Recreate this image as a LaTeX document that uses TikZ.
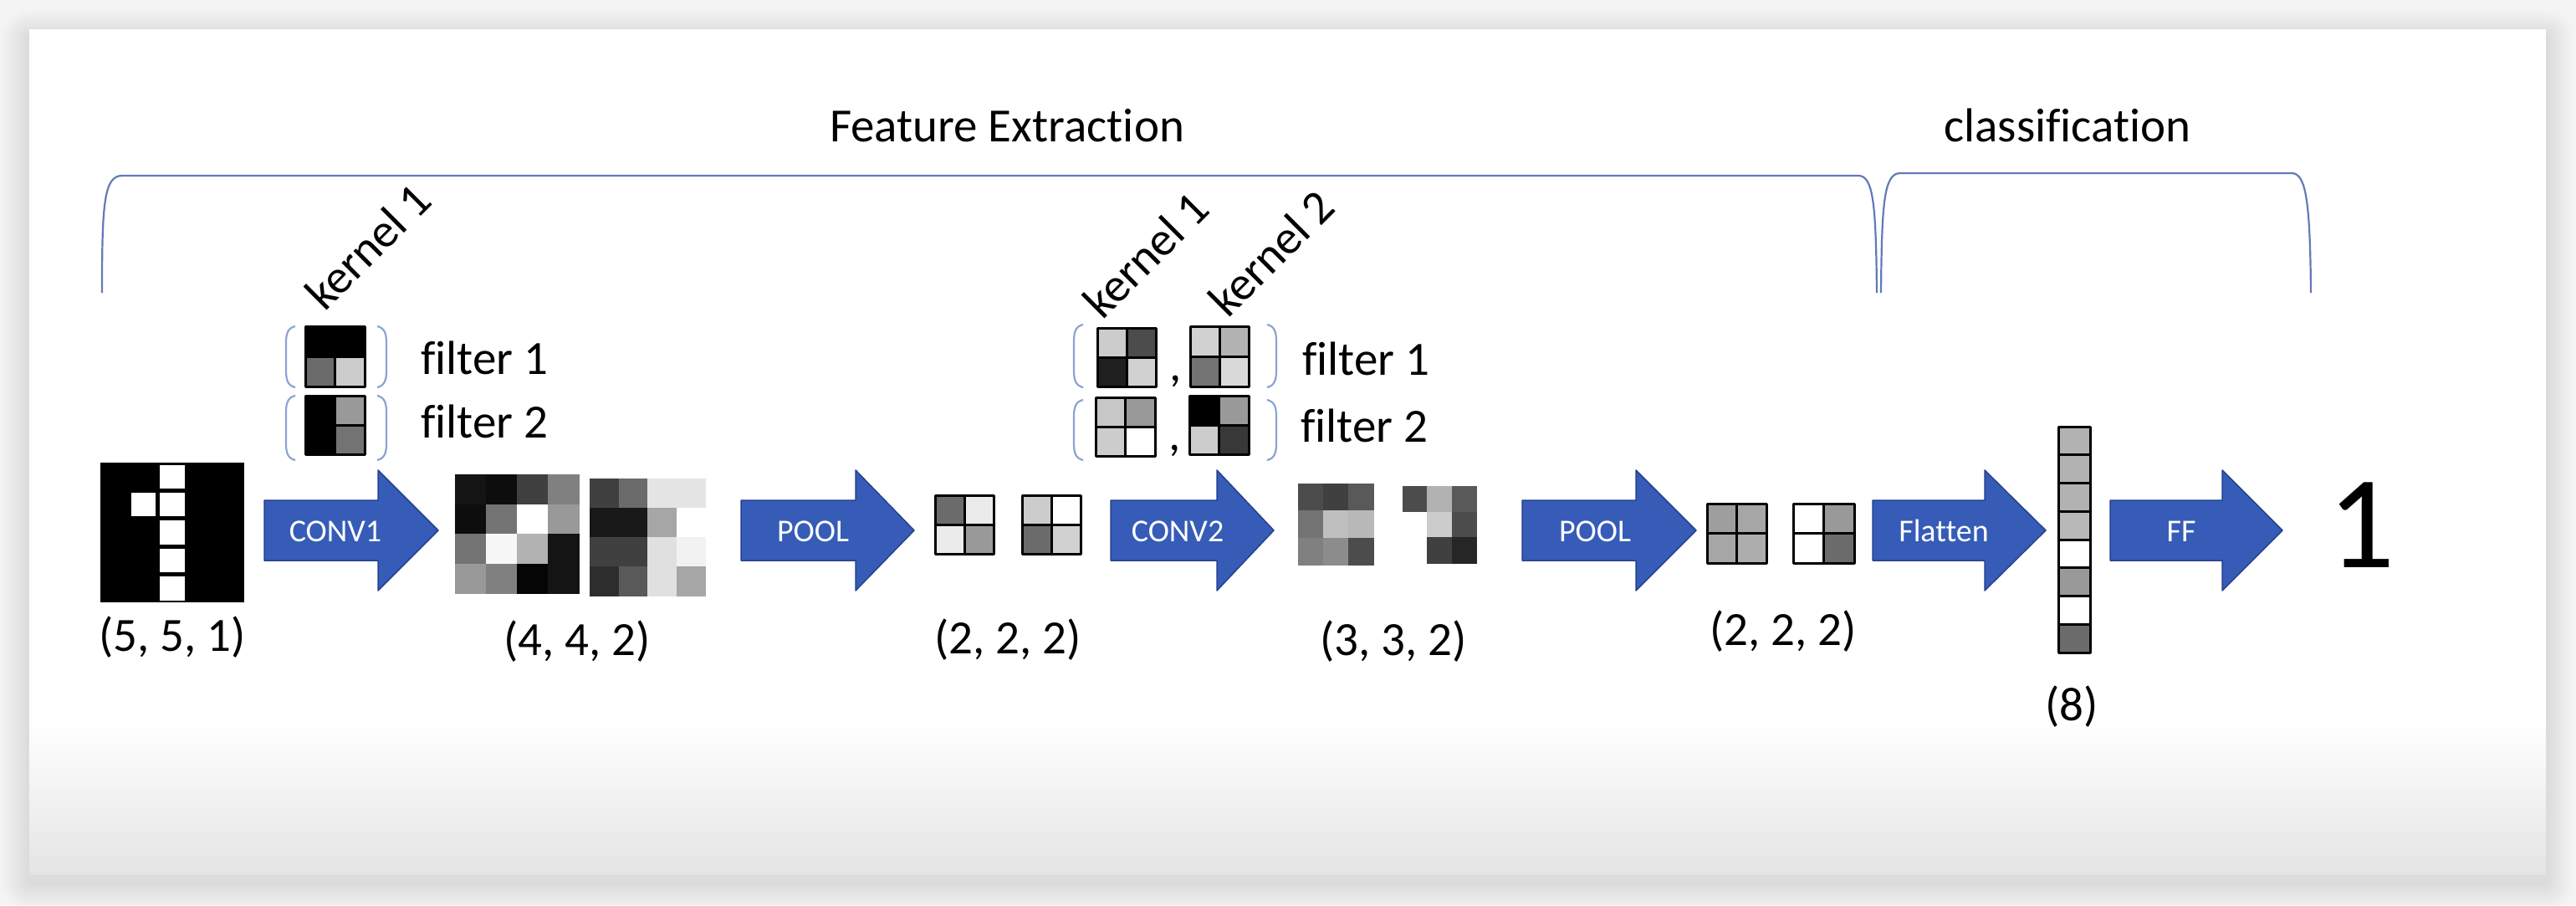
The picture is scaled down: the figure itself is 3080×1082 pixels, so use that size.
\documentclass[tikz,border=0pt]{standalone}
\usepackage{fontspec}
\setmainfont{Carlito}[Ligatures=NoCommon]
\definecolor{bgout}{RGB}{244,244,244}
\definecolor{cardbot}{RGB}{228,228,228}
\definecolor{bracecol}{RGB}{98,122,186}
\definecolor{kbrace}{RGB}{140,162,212}
\definecolor{arrfill}{RGB}{54,92,184}
\definecolor{arrdraw}{RGB}{38,66,142}
\tikzset{
  lbl/.style={font=\fontsize{57}{68}\selectfont, inner sep=0pt, text=black},
  arrlbl/.style={font=\fontsize{38}{46}\selectfont, inner sep=0pt, text=white},
  bigone/.style={font=\fontsize{158}{180}\selectfont, inner sep=0pt, text=black},
  bracket/.style={draw=bracecol, line width=2.2pt},
  kbracket/.style={draw=kbrace, line width=2.2pt},
  blockarr/.style={fill=arrfill, draw=arrdraw, line width=1.5pt},
  gridline/.style={draw=black, line width=3pt}
}
% soft grid: x0,y0,cellw,cellh,ncols,{values}
\newcommand{\softgrid}[6]{%
  \foreach \v [count=\i from 0] in {#6} {%
    \pgfmathtruncatemacro\cc{mod(\i,#5)}%
    \pgfmathtruncatemacro\rr{div(\i,#5)}%
    \fill[white!\v!black] ({#1+\cc*#3},{#2+\rr*#4}) rectangle ++(#3+0.6,#4+0.6);
  }}
% bordered grid: x0,y0,cellw,cellh,ncols,nrows,{values}
\newcommand{\boxgrid}[7]{%
  \softgrid{#1}{#2}{#3}{#4}{#5}{#7}%
  \foreach \cc in {1,...,#5} {\ifnum\cc<#5 \draw[gridline] ({#1+\cc*#3},#2) -- ++(0,{#6*#4});\fi}%
  \foreach \rr in {1,...,#6} {\ifnum\rr<#6 \draw[gridline] (#1,{#2+\rr*#4}) -- ++({#5*#3},0);\fi}%
  \draw[gridline] (#1,#2) rectangle ++({#5*#3},{#6*#4});}
% block arrow: x start, head base, tip
\newcommand{\blockarrow}[3]{%
  \draw[blockarr] (#1,598) -- (#2,598) -- (#2,562) -- (#3,634) -- (#2,706) -- (#2,670) -- (#1,670) -- cycle;}
% kernel bracket pair: xl, xr, ytop, ybot
\newcommand{\kbr}[4]{%
  \draw[kbracket] ({#1+11},#3) .. controls ({#1+2},{#3+2}) and (#1,{#3+9}) .. (#1,{#3+20}) -- (#1,{#4-20}) .. controls (#1,{#4-9}) and ({#1+2},{#4-2}) .. ({#1+11},#4);
  \draw[kbracket] ({#2-11},#3) .. controls ({#2-2},{#3+2}) and (#2,{#3+9}) .. (#2,{#3+20}) -- (#2,{#4-20}) .. controls (#2,{#4-9}) and ({#2-2},{#4-2}) .. ({#2-11},#4);}
\begin{document}
\begin{tikzpicture}[x=1pt,y=-1pt,line join=round]
\useasboundingbox (0,0) rectangle (3080,1082);
% background and card
\fill[bgout] (0,0) rectangle (3080,1082);
\foreach \d in {32,28,...,2} {\fill[black,opacity=0.012,rounded corners=\d pt] ({35-\d},{35-\d+10}) rectangle ({3044+\d},{1045+\d+10});}
\fill[white] (35,35) rectangle (3044,1045);
\shade[top color=white,bottom color=cardbot] (35,860) rectangle (3044,1045);

% section braces and titles
\draw[bracket] (122,350) .. controls (122,245) and (124,210) .. (146,210) -- (2222,210) .. controls (2240,210) and (2243,245) .. (2244,350);
\draw[bracket] (2249,350) .. controls (2250,245) and (2252,207) .. (2272,207) -- (2740,207) .. controls (2758,207) and (2762,245) .. (2763,350);
\node[lbl,anchor=base] (fe) at (1204,169) {Feature Extraction};
\node[lbl,anchor=base] (cl) at (2472,169) {classification};

% input image
\fill[black] (120,553) rectangle (292,720);
\foreach \r in {0,...,4} {\fill[white] ({120+2*34.4+2.5},{553+\r*33.4+2.5}) rectangle ++(29.4,28.4);}
\fill[white] ({120+1*34.4+2.5},{553+1*33.4+2.5}) rectangle ++(29.4,28.4);
\node[lbl,anchor=base] (d1) at (206,778) {(5, 5, 1)};

% CONV1
\blockarrow{316}{452}{524}
\node[arrlbl,anchor=base] (a1) at (401,647) {CONV1};

% filters, first conv
\node[lbl,anchor=base west,rotate=45] (k1a) at (388,374) {kernel 1};
\boxgrid{365}{390}{35.5}{36}{2}{2}{0,0,42,80}
\boxgrid{365}{473}{35.5}{35}{2}{2}{0,60,0,45}
\kbr{342}{462}{390}{463}
\kbr{342}{462}{473}{550}
\node[lbl,anchor=base west] (f1a) at (503,447) {filter 1};
\node[lbl,anchor=base west] (f2a) at (503,523) {filter 2};

% conv1 output maps
\softgrid{544}{567}{37}{35.5}{4}{8,5,25,50, 5,45,100,60, 45,97,70,8, 60,50,2,8}
\softgrid{705}{572}{34.5}{35}{4}{25,42,90,90, 10,10,65,100, 25,25,88,95, 18,35,88,65}
\node[lbl,anchor=base] (d2) at (690,783) {(4, 4, 2)};

% POOL 1
\blockarrow{886}{1023}{1093}
\node[arrlbl,anchor=base] (a2) at (972,647) {POOL};
\boxgrid{1118}{592}{35}{35}{2}{2}{42,92,92,60}
\boxgrid{1222}{592}{35}{35}{2}{2}{80,100,42,82}
\node[lbl,anchor=base] (d3) at (1205,781) {(2, 2, 2)};

% filters, second conv
\node[lbl,anchor=base west,rotate=45] (k1b) at (1318,384) {kernel 1};
\node[lbl,anchor=base west,rotate=45] (k2b) at (1468,382) {kernel 2};
\boxgrid{1312}{392}{35}{35}{2}{2}{80,30,12,82}
\boxgrid{1423}{390}{35}{36}{2}{2}{82,70,45,85}
\boxgrid{1310}{475}{35.5}{35}{2}{2}{78,60,80,100}
\boxgrid{1422}{473}{35.5}{35}{2}{2}{0,60,80,22}
\node[lbl,anchor=base] (c1) at (1406,455) {,};
\node[lbl,anchor=base] (c2) at (1405,538) {,};
\kbr{1284}{1526}{388}{463}
\kbr{1284}{1526}{478}{550}
\node[lbl,anchor=base west] (f1b) at (1557,448) {filter 1};
\node[lbl,anchor=base west] (f2b) at (1555,528) {filter 2};

% CONV2
\blockarrow{1328}{1455}{1523}
\node[arrlbl,anchor=base] (a3) at (1408,647) {CONV2};
\softgrid{1552}{578}{30}{32.3}{3}{30,25,35, 45,75,72, 50,55,30}
\softgrid{1677}{581}{29.3}{30.7}{3}{30,70,35, 100,80,30, 100,25,15}
\node[lbl,anchor=base] (d4) at (1666,783) {(3, 3, 2)};

% POOL 2
\blockarrow{1820}{1956}{2028}
\node[arrlbl,anchor=base] (a4) at (1907,647) {POOL};
\boxgrid{2041}{602}{35.5}{35.5}{2}{2}{62,65,65,68}
\boxgrid{2144}{602}{36.5}{35.5}{2}{2}{100,60,100,42}
\node[lbl,anchor=base] (d5) at (2132,771) {(2, 2, 2)};

% Flatten
\blockarrow{2239}{2373}{2446}
\node[arrlbl,anchor=base] (a5) at (2324,647) {Flatten};
\boxgrid{2461}{510}{38}{33.75}{1}{8}{70,70,70,72,100,60,100,42}
\node[lbl,anchor=base] (d6) at (2477,861) {(8)};

% FF
\blockarrow{2523}{2657}{2729}
\node[arrlbl,anchor=base] (a6) at (2608,647) {FF};
\node[bigone,anchor=base] (out) at (2824,678) {1};
\end{tikzpicture}
\end{document}
